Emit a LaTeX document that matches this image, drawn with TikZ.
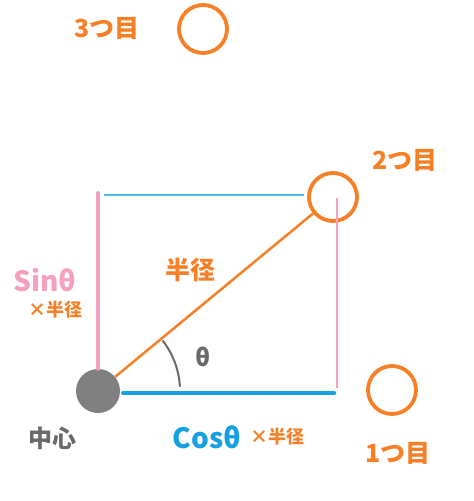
\documentclass[tikz,border=0pt]{standalone}
\usepackage{fontspec}
\setmainfont{Noto Sans CJK JP}
\usepackage{tikz}
\usetikzlibrary{positioning}
\definecolor{ringorange}{RGB}{245,128,40}
\definecolor{sinpink}{RGB}{246,160,192}
\definecolor{cosblue}{RGB}{20,160,225}
\definecolor{guidecyan}{RGB}{80,185,230}
\definecolor{hubgray}{RGB}{128,128,128}
\definecolor{textgray}{RGB}{105,105,105}
\tikzstyle{hub} = [circle, fill=hubgray, minimum size=44pt, inner sep=0pt]
\tikzstyle{ring} = [circle, draw=ringorange, line width=3.8pt, minimum size=48pt, inner sep=0pt]
\tikzstyle{tag} = [inner sep=0pt, font=\bfseries\fontsize{25}{25}\selectfont]
\tikzstyle{small} = [inner sep=0pt, font=\bfseries\fontsize{18}{18}\selectfont, text=ringorange]
\tikzstyle{radius line} = [draw=ringorange, line width=2.5pt]
\tikzstyle{sin line} = [draw=sinpink, line width=4pt, line cap=round]
\tikzstyle{cos line} = [draw=cosblue, line width=4.5pt, line cap=round]

\begin{document}
\begin{tikzpicture}[x=1pt,y=-1pt]
    \useasboundingbox (0,0) rectangle (474,501);
    \node [hub]  (center) at (98,391) {};
    \node [ring] (second) at (333,197) {};
    \node [ring] (first) at (392,390) {};
    \node [ring] (third) at (203,29) {};
    \coordinate (sintop) at (98,193);
    \coordinate (costip) at (334,393);
    \coordinate (cyanstart) at (104,195);
    \coordinate (cyanend) at (304,195);
    \coordinate (pinkstart) at (337,198);
    \coordinate (pinkend) at (337,388);
    \path [sin line] (center.north) -- (sintop);
    \path [cos line] ([xshift=3pt,yshift=-2pt]center.east) -- (costip);
    \draw [guidecyan, line width=1.2pt] (cyanstart) -- (cyanend);
    \draw [sinpink, line width=1.3pt] (pinkstart) -- (pinkend);
    \path [radius line] (center) -- (second);
    \draw [textgray, line width=2pt] (center) ++(-3:82) arc (-3:-38:82);
    \node [tag, text=textgray, font=\bfseries\fontsize{24}{24}\selectfont] (theta) at (203,357) {θ};
    \node [tag, text=ringorange] (thirdtag) at (107,28) {3つ目};
    \node [tag, text=ringorange] (secondtag) at (405,160) {2つ目};
    \node [tag, text=ringorange] (firsttag) at (398,453) {1つ目};
    \node [tag, text=textgray, font=\bfseries\fontsize{24}{24}\selectfont] (centertag) at (52,438) {中心};
    \node [tag, text=ringorange] (radiustag) at (190,270) {半径};
    \node [tag, text=cosblue, font=\bfseries\fontsize{28}{28}\selectfont] (costag) at (207,437) {Cosθ};
    \node [small, right=9pt of costag] (cosmul) {×半径};
    \node [tag, text=sinpink, font=\bfseries\fontsize{28}{28}\selectfont] (sintag) at (45,280) {Sinθ};
    \node [small] (sinmul) at (55,310) {×半径};
\end{tikzpicture}
\end{document}
